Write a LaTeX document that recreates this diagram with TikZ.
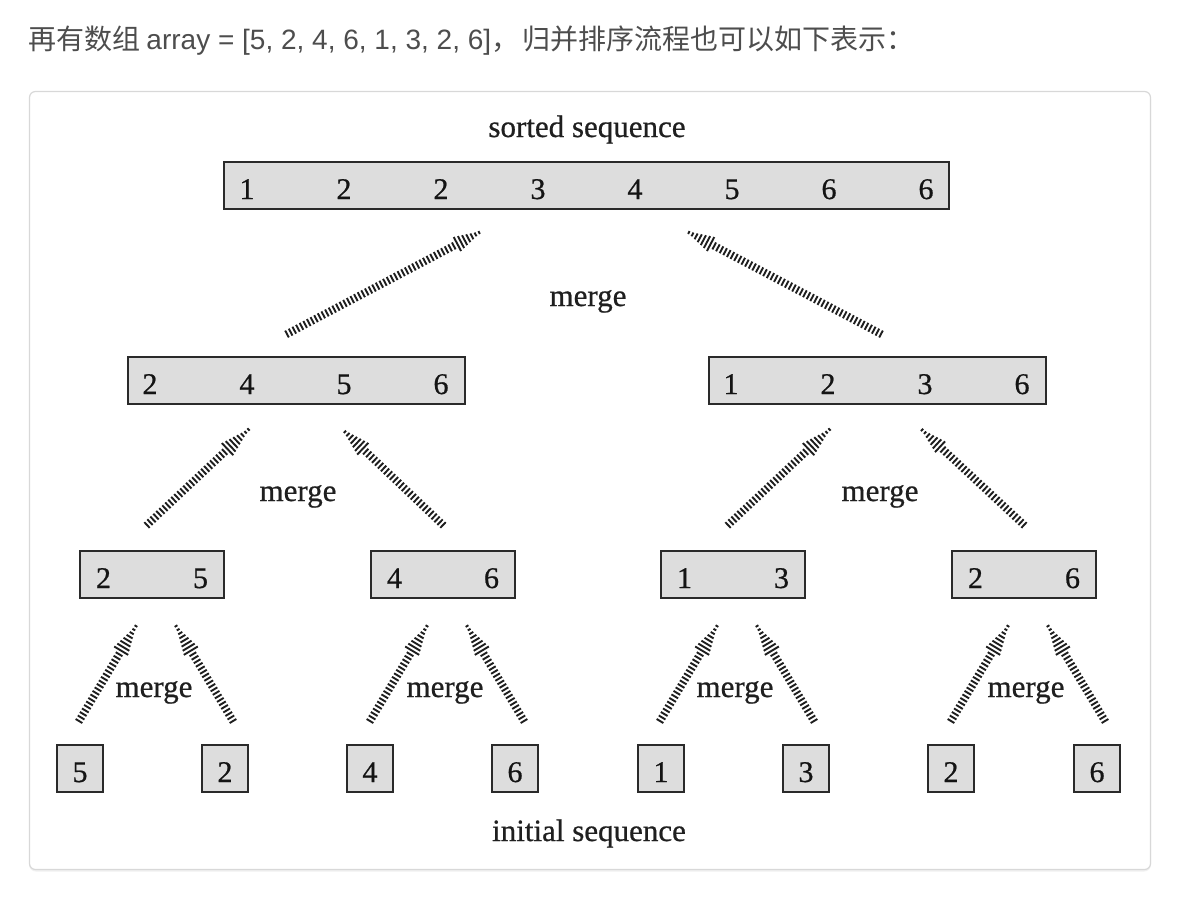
\documentclass[tikz,border=0pt]{standalone}
\usepackage{fontspec}
\setmainfont{Liberation Serif}
\newfontfamily\scanfont{Liberation Serif}[FakeBold=0.7]
\newfontfamily\cjkfont{Noto Sans CJK SC}
\newfontfamily\latfont{Liberation Sans}
\usetikzlibrary{decorations.markings}
\definecolor{boxfill}{HTML}{DDDDDD}
\definecolor{boxline}{HTML}{2A2A2A}
\definecolor{headgray}{HTML}{4D4D4D}
\definecolor{cardline}{HTML}{D8D8D8}
\definecolor{hatchcol}{HTML}{1E1E1E}
\tikzset{
  seqbox/.style={draw=boxline, fill=boxfill, line width=2pt, inner sep=0pt, minimum height=47pt},
  num/.style={inner sep=0pt, anchor=base, font=\scanfont\fontsize{30}{30}\selectfont, text=black!92},
  lbl/.style={inner sep=0pt, anchor=base, font=\scanfont\fontsize{31}{31}\selectfont, text=black!88},
  hatcharrow/.style={decorate, decoration={markings,
    mark=between positions 0 and 1 step 4.1pt with {
      \pgfmathsetmacro\remd{\pgfdecoratedpathlength-\pgfkeysvalueof{/pgf/decoration/mark info/distance from start}}
      \pgfmathsetmacro\hw{\remd<30 ? max(1.6,\remd*8.5/30) : 3.9}
      \draw[line width=1.9pt, hatchcol, line cap=butt] (0pt,-\hw pt) -- (0pt,\hw pt);
    }}}
}
\begin{document}
\begin{tikzpicture}[x=1pt,y=-1pt]
\useasboundingbox (0,0) rectangle (1188,908);
\fill[white] (0,0) rectangle (1188,908);
% card
\fill[black!6, rounded corners=7pt] (29,92.5) rectangle (1151,871.5);
\draw[cardline, line width=1.2pt, rounded corners=6pt, fill=white] (29.5,91.5) rectangle (1150.5,869.5);
% header
\node[anchor=base west, inner sep=0pt, text=headgray, font=\fontsize{28}{28}\selectfont] (head) at (28,49)
  {\cjkfont 再有数组 \latfont array = [5, 2, 4, 6, 1, 3, 2, 6]\cjkfont ，\hspace{3pt}归并排序流程也可以如下表示：};
% labels
\node[lbl] (sorted) at (587,137) {sorted sequence};
\node[lbl] (initial) at (589,841) {initial sequence};
\node[lbl] (m0) at (588,306) {merge};
\node[lbl] (m1) at (298,501) {merge};
\node[lbl] (m2) at (880,501) {merge};
\node[lbl] (m3) at (154,697) {merge};
\node[lbl] (m4) at (445,697) {merge};
\node[lbl] (m5) at (735,697) {merge};
\node[lbl] (m6) at (1026,697) {merge};
% top box
\node[seqbox, minimum width=725pt] (top) at (586.5,185) {};
\foreach \v [count=\i] in {1,2,2,3,4,5,6,6}
  \node[num] (top-\i) at ({247+97*(\i-1)},199) {\v};
% level 2
\node[seqbox, minimum width=337pt] (la) at (296.5,380.5) {};
\foreach \v [count=\i] in {2,4,5,6}
  \node[num] (la-\i) at ({150+97*(\i-1)},394) {\v};
\node[seqbox, minimum width=337pt] (lb) at (877.5,380.5) {};
\foreach \v [count=\i] in {1,2,3,6}
  \node[num] (lb-\i) at ({731+97*(\i-1)},394) {\v};
% level 3
\foreach \cx/\a/\b [count=\i] in {152/2/5, 443/4/6, 733/1/3, 1024/2/6} {
  \node[seqbox, minimum width=144pt] (p\i) at (\cx,574.5) {};
  \node[num] (p\i-a) at ({\cx-48.5},588) {\a};
  \node[num] (p\i-b) at ({\cx+48.5},588) {\b};
}
% level 4
\foreach \cx/\v [count=\i] in {80/5, 225/2, 370/4, 515/6, 661/1, 806/3, 951/2, 1097/6} {
  \node[seqbox, minimum width=46pt] (q\i) at (\cx,768.5) {};
  \node[num] (q\i-v) at (\cx,782) {\v};
}
% arrow end points
\coordinate (a1s) at (287,334); \coordinate (a1e) at (482,231);
\coordinate (a2s) at (881,334); \coordinate (a2e) at (686,231);
\coordinate (b1s) at (147,525); \coordinate (b1e) at (249,429);
\coordinate (b2s) at (443,525); \coordinate (b2e) at (342,429);
\coordinate (b3s) at (728,525); \coordinate (b3e) at (830,429);
\coordinate (b4s) at (1024,525); \coordinate (b4e) at (921,429);
\foreach \cx [count=\i] in {152,443,733,1024} {
  \coordinate (c\i ls) at ({\cx-73},721); \coordinate (c\i le) at ({\cx-16},626);
  \coordinate (c\i rs) at ({\cx+81},721); \coordinate (c\i re) at ({\cx+24},626);
}
\path[hatcharrow] (a1s) -- (a1e);
\path[hatcharrow] (a2s) -- (a2e);
\path[hatcharrow] (b1s) -- (b1e);
\path[hatcharrow] (b2s) -- (b2e);
\path[hatcharrow] (b3s) -- (b3e);
\path[hatcharrow] (b4s) -- (b4e);
\foreach \i in {1,2,3,4} {
  \path[hatcharrow] (c\i ls) -- (c\i le);
  \path[hatcharrow] (c\i rs) -- (c\i re);
}
\end{tikzpicture}
\end{document}
